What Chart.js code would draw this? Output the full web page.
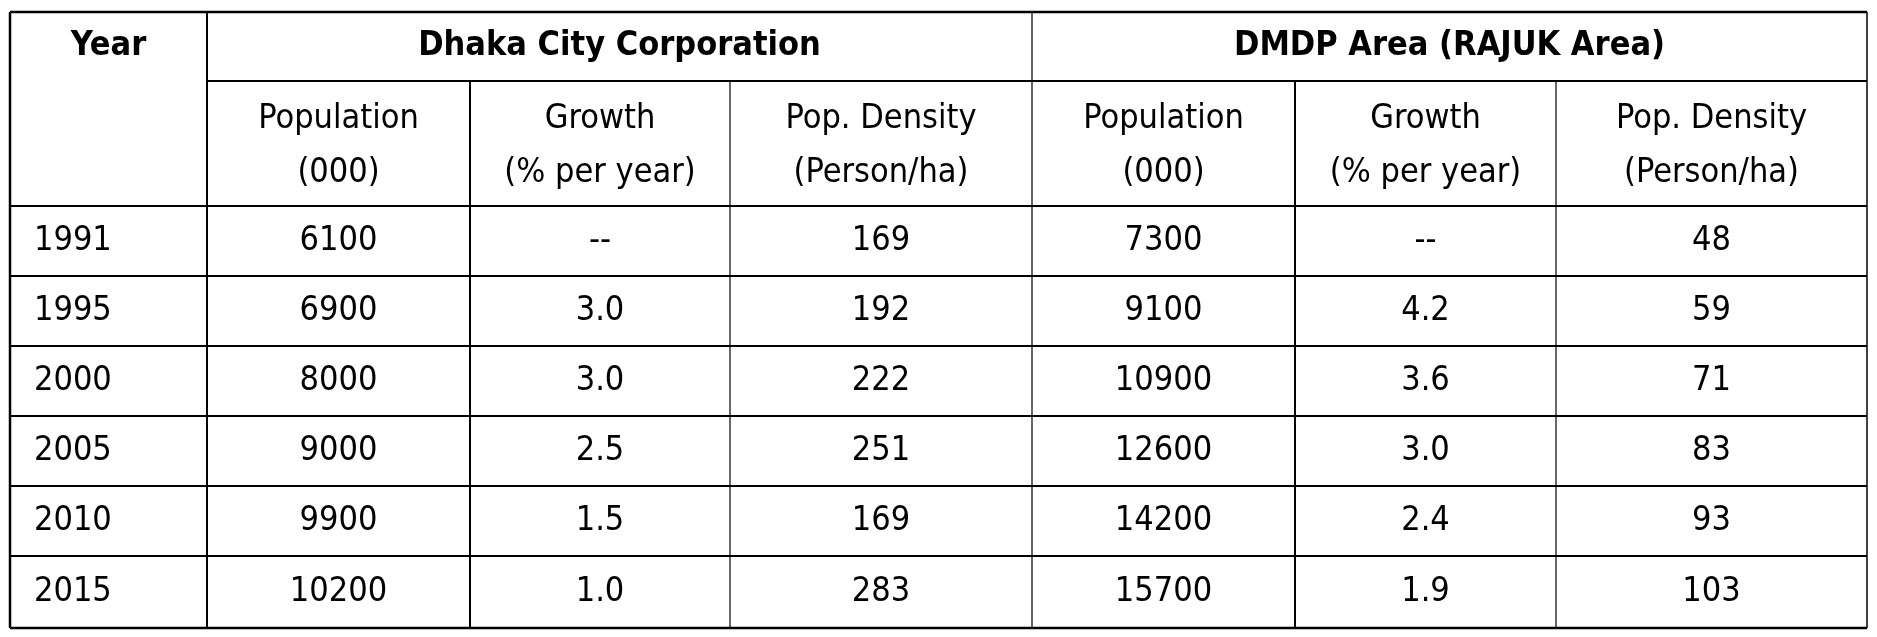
<!DOCTYPE html>
<html><head><meta charset="utf-8">
<script src="https://cdn.jsdelivr.net/npm/chart.js@4"></script>
<style>html,body{margin:0;padding:0;background:#fff}#wrap{width:1877px;height:637px}</style>
</head><body><div id="wrap"><canvas id="c"></canvas></div>
<script>
const years = ["1991","1995","2000","2005","2010","2015"];
const dccPop = ["6100","6900","8000","9000","9900","10200"];
const dccGrowth = ["--","3.0","3.0","2.5","1.5","1.0"];
const dccDensity = ["169","192","222","251","169","283"];
const dmdpPop = ["7300","9100","10900","12600","14200","15700"];
const dmdpGrowth = ["--","4.2","3.6","3.0","2.4","1.9"];
const dmdpDensity = ["48","59","71","83","93","103"];
const groupHeaders = ["Dhaka City Corporation","DMDP Area (RAJUK Area)"];
const subHeaders = [["Population","(000)"],["Growth","(% per year)"],["Pop. Density","(Person/ha)"]];

const colEdges = [10, 207, 470, 730, 1032, 1295, 1556, 1867];
const rowEdges = [12, 81, 206, 276, 346, 416, 486, 556, 628];

const tablePlugin = {
  id:'table',
  afterDraw(chart){
    const ctx = chart.ctx, X = chart.scales.x, Y = chart.scales.y;
    const px = v => X.getPixelForValue(v), py = v => Y.getPixelForValue(v);
    ctx.save();
    ctx.strokeStyle = '#000';
    function line(x1,y1,x2,y2,w){ctx.lineWidth=w;ctx.beginPath();ctx.moveTo(px(x1),py(y1));ctx.lineTo(px(x2),py(y2));ctx.stroke();}
    const L=colEdges[0], R=colEdges[7];
    line(L,rowEdges[0],R,rowEdges[0],2.5);
    line(L,rowEdges[8],R,rowEdges[8],2.5);
    line(L,rowEdges[0],L,rowEdges[8],2.5);
    line(R,rowEdges[0],R,rowEdges[8],1.5);
    line(colEdges[1],rowEdges[1],R,rowEdges[1],2);
    for(let i=2;i<8;i++) line(L,rowEdges[i],R,rowEdges[i],2);
    line(colEdges[1],rowEdges[0],colEdges[1],rowEdges[8],2);
    line(colEdges[4],rowEdges[0],colEdges[4],rowEdges[8],1.2);
    [2,3,5,6].forEach(c=>line(colEdges[c],rowEdges[1],colEdges[c],rowEdges[8],[3,6].includes(c)?1.2:2));
    ctx.fillStyle='#000'; ctx.textBaseline='middle';
    const cx = c => px((colEdges[c]+colEdges[c+1])/2);
    const cy = r => py((rowEdges[r]+rowEdges[r+1])/2);
    ctx.font='bold 34px "DejaVu Sans Condensed","DejaVu Sans"';
    ctx.textAlign='center';
    ctx.fillText('Year', cx(0), cy(0));
    ctx.fillText(groupHeaders[0], px((colEdges[1]+colEdges[4])/2), cy(0));
    ctx.fillText(groupHeaders[1], px((colEdges[4]+colEdges[7])/2), cy(0));
    ctx.font='34px "DejaVu Sans Condensed","DejaVu Sans"';
    for(let g=0;g<2;g++) for(let s=0;s<3;s++){
      const c=1+g*3+s;
      ctx.fillText(subHeaders[s][0], cx(c), py(rowEdges[1]+38));
      ctx.fillText(subHeaders[s][1], cx(c), py(rowEdges[1]+92));
    }
    const cols=[dccPop,dccGrowth,dccDensity,dmdpPop,dmdpGrowth,dmdpDensity];
    years.forEach((y,i)=>{
      const yy = cy(2+i);
      ctx.textAlign='left'; ctx.fillText(y, px(colEdges[0]+24), yy);
      ctx.textAlign='center';
      cols.forEach((arr,j)=>ctx.fillText(arr[i], cx(1+j), yy));
    });
    ctx.restore();
  }
};

new Chart(document.getElementById('c'),{
  type:'scatter',
  data:{datasets:[{data:[]}]},
  options:{
    responsive:true, maintainAspectRatio:false, animation:false,
    layout:{padding:0},
    plugins:{legend:{display:false},tooltip:{enabled:false}},
    scales:{
      x:{type:'linear',min:0,max:1877,display:false},
      y:{type:'linear',min:0,max:637,reverse:true,display:false}
    }
  },
  plugins:[tablePlugin]
});
</script></body></html>
